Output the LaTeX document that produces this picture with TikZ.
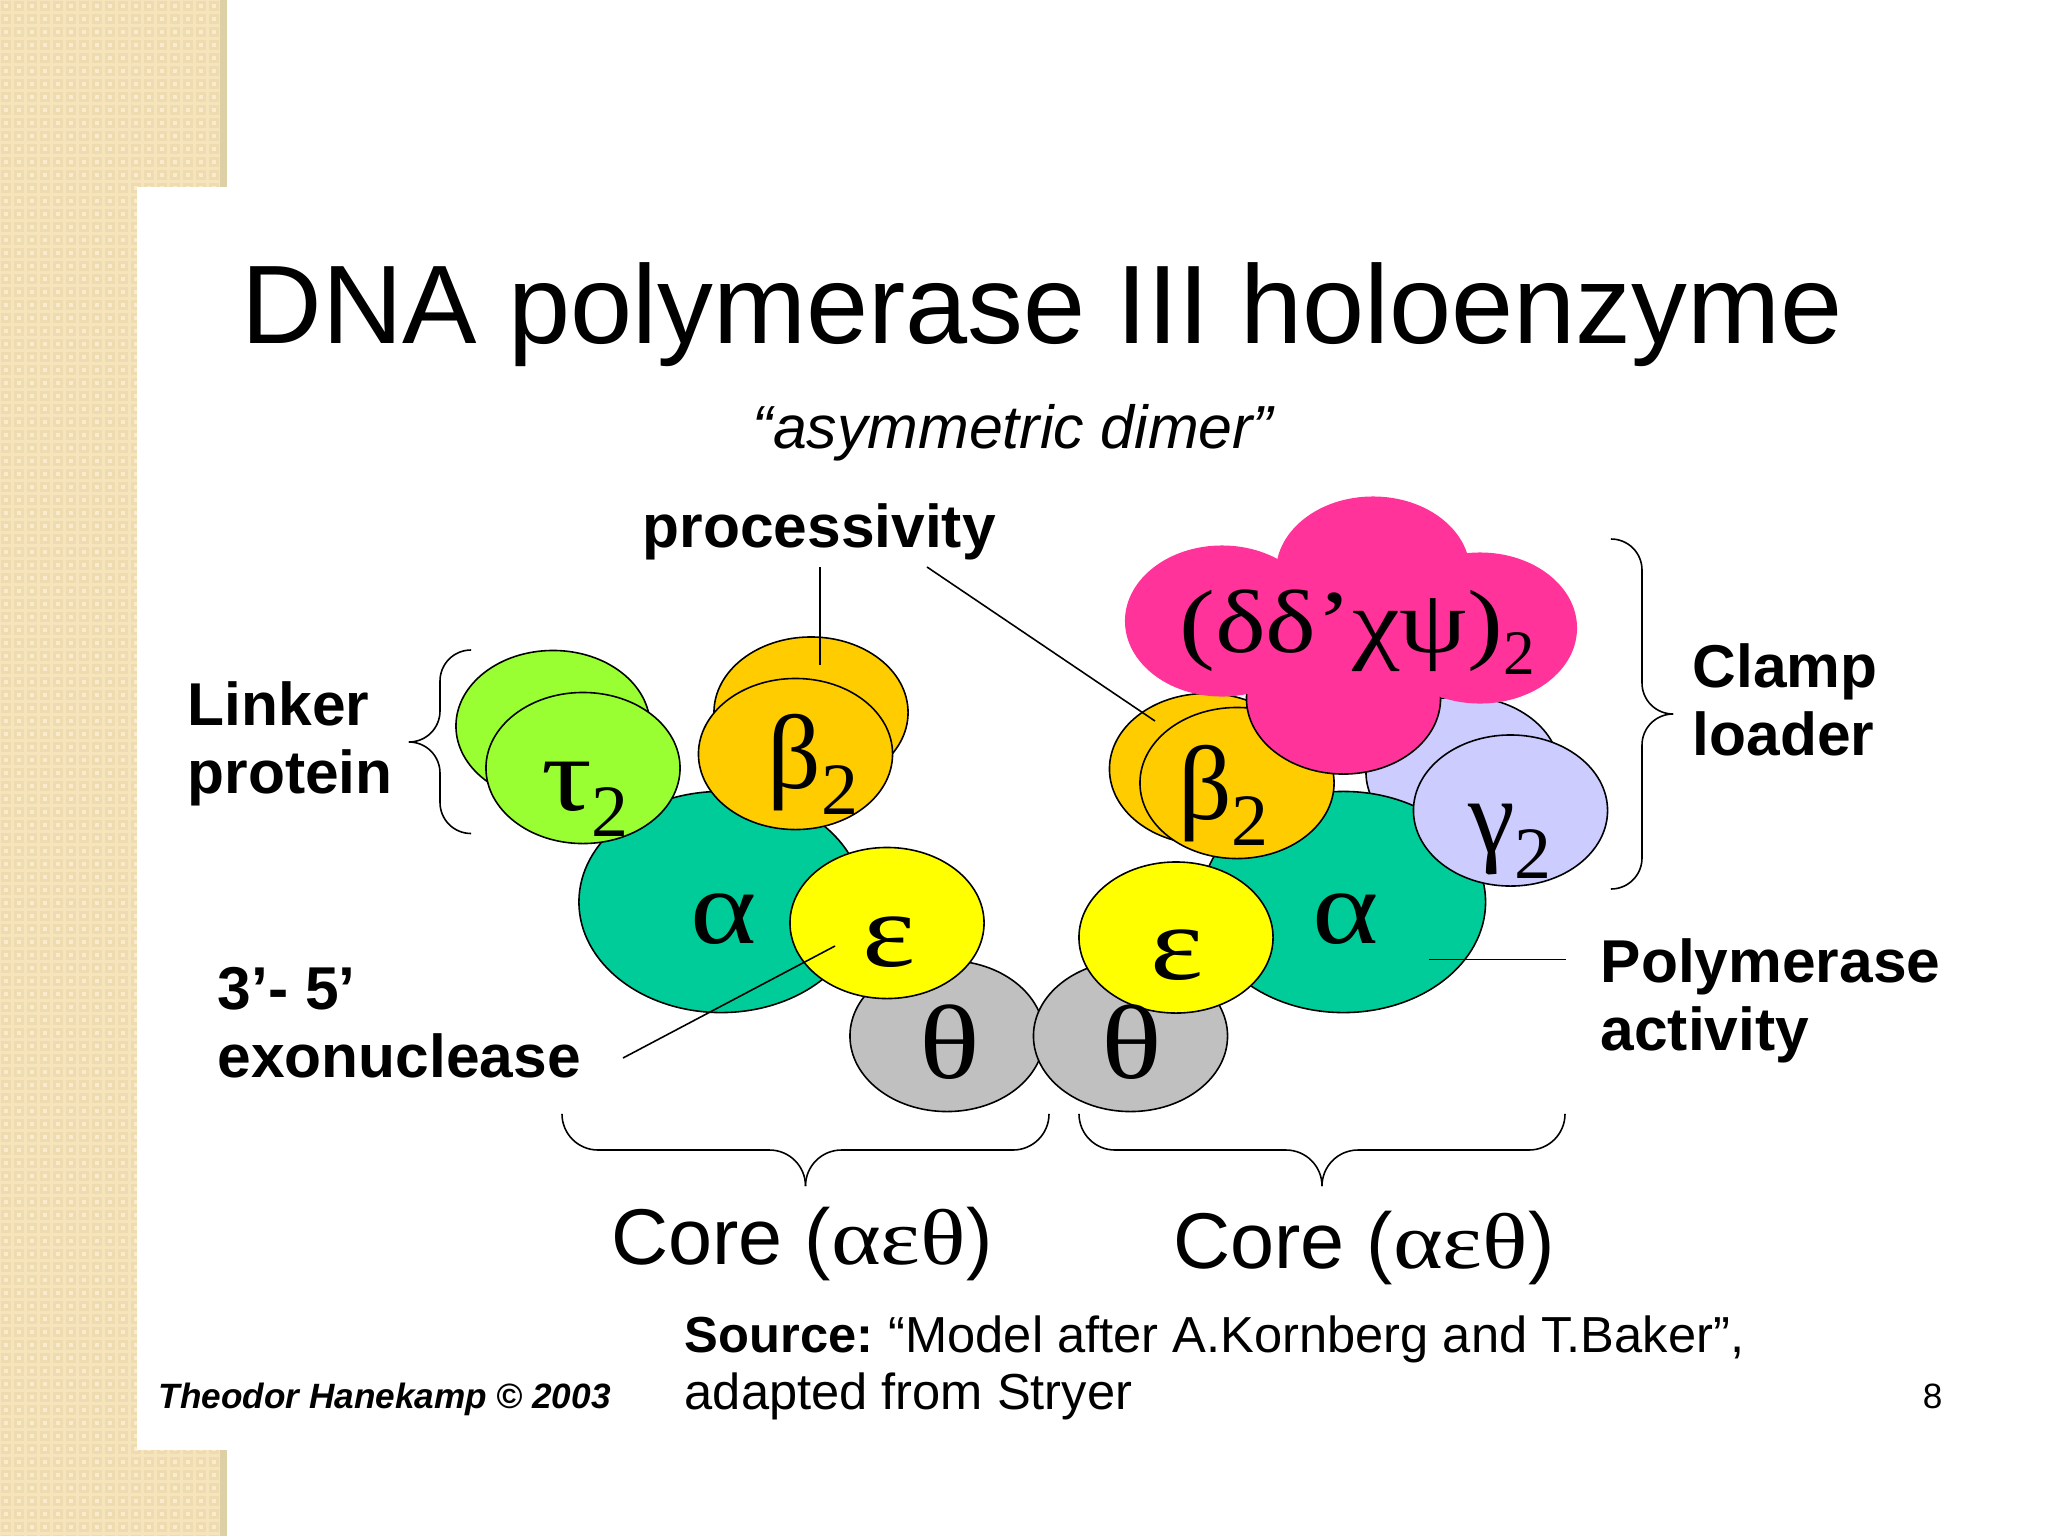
\documentclass[tikz,border=0pt]{standalone}
\usepackage{fontspec}
\setmainfont{Liberation Sans}
\newfontfamily\greekfont{Liberation Serif}
\newfontfamily\widegreek[FakeStretch=1.2]{Liberation Serif}
\usetikzlibrary{shapes.geometric}
\definecolor{tanbase}{HTML}{F6E4BC}
\definecolor{tandark}{HTML}{EEDCB0}
\definecolor{tanlight}{HTML}{F9EBCB}
\definecolor{tanedge}{HTML}{DDD0A6}
\definecolor{alphacol}{HTML}{00CC99}
\definecolor{taucol}{HTML}{99FF33}
\definecolor{betacol}{HTML}{FFCC00}
\definecolor{epscol}{HTML}{FFFF00}
\definecolor{thetacol}{HTML}{C0C0C0}
\definecolor{gammacol}{HTML}{CCCCFF}
\definecolor{cloudcol}{HTML}{FF3399}
\newcommand{\gsub}[2][21]{\raisebox{-0.357\dimexpr #1pt\relax}{\greekfont\fontsize{#1}{#1}\selectfont #2}}

\begin{document}
\begin{tikzpicture}[x=0.01cm,y=-0.01cm,
    subunit/.style={ellipse, draw=black, line width=0.45pt, inner sep=0pt, minimum width=1.94cm, minimum height=1.51cm},
    bigunit/.style={subunit, minimum width=2.84cm, minimum height=2.21cm},
    puff/.style={ellipse, fill=cloudcol, inner sep=0pt, minimum width=1.94cm, minimum height=1.51cm},
    glyph/.style={anchor=base, inner sep=0pt, font=\greekfont\fontsize{30}{30}\selectfont},
    wideglyph/.style={anchor=base, inner sep=0pt, font=\widegreek\fontsize{30}{30}\selectfont},
    boldlabel/.style={anchor=north west, inner sep=0pt, align=left, font=\bfseries\fontsize{17.2}{19.3}\selectfont},
    core/.style={anchor=base, inner sep=0pt, font=\fontsize{22.5}{24}\selectfont},
    pointer/.style={line width=0.45pt},
    curly/.style={line width=0.45pt, rounded corners=0.31cm},
    curlybig/.style={line width=0.45pt, rounded corners=0.36cm}]
    \useasboundingbox (0,0) rectangle (2048,1536);
    \fill[tanbase] (0,0) rectangle (227,1536);
    \foreach \i in {0,...,17} {
        \foreach \j in {0,...,118} {
            \fill[tandark] (\i*13+1,\j*13+1) rectangle +(10,10);
            \fill[tanlight] (\i*13+4,\j*13+4) rectangle +(4,4);
        }
    }
    \fill[white] (227,0) rectangle (2048,1536);
    \fill[tanedge] (220,0) rectangle (227,187);
    \fill[tanedge] (220,1450) rectangle (227,1536);
    \fill[white] (137,187) rectangle (2048,1450);

    \node[anchor=base west, inner sep=0pt, font=\fontsize{31.75}{34}\selectfont] (title) at (241,343) {DNA polymerase III holoenzyme};
    \node[anchor=base, inner sep=0pt, font=\itshape\fontsize{17.3}{19}\selectfont] (dimer) at (1013,448) {“asymmetric dimer”};

    \node[subunit, fill=thetacol] (thetaL) at (947,1036) {};
    \node[bigunit, fill=alphacol] (alphaL) at (721,902) {};
    \node[subunit, fill=taucol] (tauB) at (553,726) {};
    \node[subunit, fill=taucol] (tauF) at (583,768) {};
    \node[subunit, fill=betacol] (betaLB) at (811,712.5) {};
    \node[subunit, fill=betacol] (betaLF) at (795.5,754) {};
    \node[subunit, fill=epscol] (epsL) at (887,923) {};

    \node[subunit, fill=gammacol] (gammaB) at (1463,772) {};
    \node[bigunit, fill=alphacol] (alphaR) at (1343.5,902) {};
    \node[subunit, fill=betacol] (betaRB) at (1206.5,769) {};
    \node[subunit, fill=betacol] (betaRF) at (1237,783) {};
    \node[subunit, fill=gammacol] (gammaF) at (1510.5,810.5) {};
    \node[subunit, fill=thetacol] (thetaR) at (1130.5,1036) {};
    \node[subunit, fill=epscol] (epsR) at (1176,937.5) {};

    \node[subunit, fill=cloudcol] (cloudS) at (1343.5,698.5) {};
    \node[puff] (cloudW) at (1222,621) {};
    \node[puff] (cloudE) at (1480,628) {};
    \node[puff] (cloudN) at (1373,572) {};
    \node[puff] (cloudC) at (1345,640) {};

    \node[wideglyph] (tauT) at (585,810.5) {τ\gsub{2}};
    \node[glyph] (betaLT) at (813,788) {β\gsub{2}};
    \node[wideglyph] (alphaLT) at (723.5,943) {α};
    \node[wideglyph] (epsLT) at (889.5,966) {ε};
    \node[wideglyph] (thetaLT) at (950,1078) {θ};
    \node[glyph] (betaRT) at (1223.5,819) {β\gsub{2}};
    \node[wideglyph] (alphaRT) at (1346,943) {α};
    \node[wideglyph] (epsRT) at (1177.5,979) {ε};
    \node[wideglyph] (thetaRT) at (1132,1078) {θ};
    \node[glyph] (gammaT) at (1510,852) {γ\gsub{2}};
    \node[wideglyph, font=\widegreek\fontsize{25.5}{26}\selectfont] (cloudT) at (1357,652) {(δδ’χψ)\gsub[18]{2}};

    \node[anchor=base west, inner sep=0pt, font=\bfseries\fontsize{17.2}{19}\selectfont] (proc) at (642,547) {processivity};
    \node[boldlabel] (linker) at (187,681) {Linker\\protein};
    \node[boldlabel] (clamp) at (1692,643) {Clamp\\loader};
    \node[boldlabel] (exo) at (217,967) {3’- 5’\\exonuclease};
    \node[boldlabel] (pol) at (1600,938) {Polymerase\\activity};

    \coordinate (procA) at (820,567);
    \coordinate (procB) at (820,664.5);
    \coordinate (procC) at (927,567);
    \coordinate (procD) at (1155,721);
    \coordinate (exoA) at (623,1058);
    \coordinate (exoB) at (835,946);
    \coordinate (polA) at (1429,959.5);
    \coordinate (polB) at (1565.5,959.5);
    \draw[pointer] (procA) -- (procB);
    \draw[pointer] (procC) -- (procD);
    \draw[pointer] (exoA) -- (exoB);
    \draw[pointer] (polA) -- (polB);

    \coordinate (linkA) at (471,650);
    \coordinate (linkB) at (471,833.5);
    \coordinate (linkS) at (440,742);
    \coordinate (linkT) at (409,742);
    \coordinate (clampA) at (1611,539);
    \coordinate (clampB) at (1611,889);
    \coordinate (clampS) at (1642,714);
    \coordinate (clampT) at (1673,714);
    \coordinate (coreLA) at (562,1114);
    \coordinate (coreLB) at (1049,1114);
    \coordinate (coreLS) at (805.5,1150);
    \coordinate (coreLT) at (805.5,1186);
    \coordinate (coreRA) at (1079,1114);
    \coordinate (coreRB) at (1565,1114);
    \coordinate (coreRS) at (1322,1150);
    \coordinate (coreRT) at (1322,1186);
    \draw[curly] (linkA) -| (linkS) -- (linkT);
    \draw[curly] (linkB) -| (linkS) -- (linkT);
    \draw[curly] (clampA) -| (clampS) -- (clampT);
    \draw[curly] (clampB) -| (clampS) -- (clampT);
    \draw[curlybig] (coreLA) |- (coreLS) -- (coreLT);
    \draw[curlybig] (coreLB) |- (coreLS) -- (coreLT);
    \draw[curlybig] (coreRA) |- (coreRS) -- (coreRT);
    \draw[curlybig] (coreRB) |- (coreRS) -- (coreRT);

    \node[core] (coreL) at (802,1264) {Core ({\widegreek αεθ})};
    \node[core] (coreR) at (1364,1268) {Core ({\widegreek αεθ})};

    \node[anchor=north west, inner sep=0pt, align=left, font=\fontsize{14.4}{16.2}\selectfont] (source) at (684,1315) {\textbf{Source:}\hspace{-1pt} “Model after A.Kornberg and T.Baker”,\\adapted from Stryer};
    \node[anchor=base west, inner sep=0pt, font=\bfseries\itshape\fontsize{10}{12}\selectfont] (author) at (158,1408) {Theodor Hanekamp © 2003};
    \node[anchor=base east, inner sep=0pt, font=\fontsize{10}{12}\selectfont] (page) at (1943,1408) {8};
\end{tikzpicture}
\end{document}
